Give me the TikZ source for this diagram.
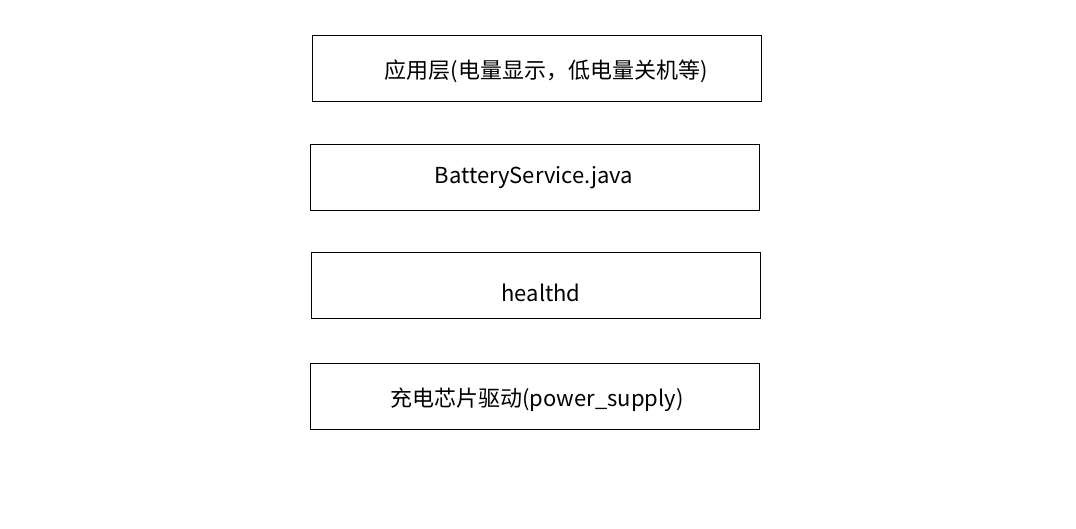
\documentclass[tikz,border=0pt]{standalone}
\usepackage{fontspec}
\setmainfont{Noto Sans CJK SC}
\usetikzlibrary{positioning}

\begin{document}
\begin{tikzpicture}[x=1pt,y=-1pt,
  layer/.style={draw=black,line width=1pt,minimum width=449pt,minimum height=66pt,inner sep=0pt},
  layer text/.style={font=\fontsize{22}{26}\selectfont,text=black,inner sep=0pt}]

  \useasboundingbox (0,0) rectangle (1076,528);

  % the four layers, top to bottom

  \node [layer] (app) at (536.5,68) {};
  \node [layer text] (app-txt) at (546,71) {应用层(电量显示，低电量关机等)};

  \node [layer] (bsvc) at (534.5,177) {};
  \node [layer text] (bsvc-txt) at (534,178) {BatteryService.java};

  \node [layer] (healthd) at (535.5,285) {};
  \node [layer text] (healthd-txt) at (541,293) {healthd};

  \node [layer] (driver) at (534.5,396) {};
  \node [layer text] (driver-txt) at (537,400) {充电芯片驱动(power\_supply)};

\end{tikzpicture}
\end{document}
